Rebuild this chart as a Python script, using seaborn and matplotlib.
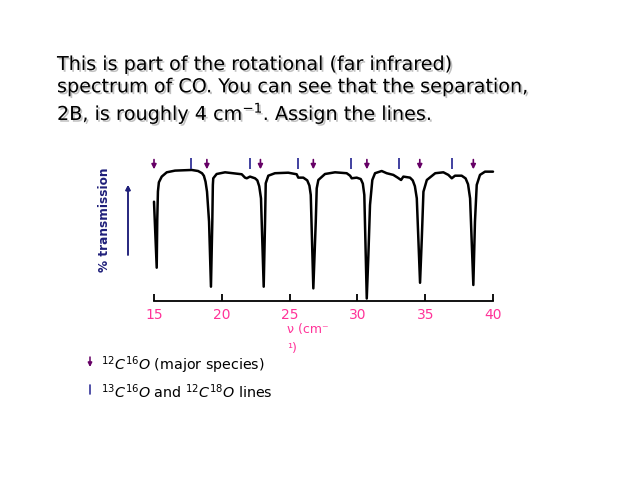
import matplotlib
matplotlib.use("Agg")
import matplotlib.pyplot as plt
import matplotlib.patheffects as pe
from matplotlib.lines import Line2D
import pandas as pd
import seaborn as sns

# Spectrum: wavenumber (cm-1) vs % transmission
wavenumber = [15.00, 15.20, 15.24, 15.29, 15.36, 15.57, 15.94, 16.55, 17.78, 18.25, 18.54,
              18.68, 18.80, 18.91, 19.06, 19.20, 19.30, 19.34, 19.37, 19.62, 20.24, 21.47,
              21.71, 21.84, 22.08, 22.45, 22.62, 22.76, 22.89, 23.09, 23.19, 23.24, 23.43,
              23.92, 24.90, 25.52, 25.64, 26.01, 26.30, 26.46, 26.56, 26.75, 26.93, 27.00,
              27.12, 27.61, 28.35, 29.21, 29.46, 29.58, 29.95, 30.25, 30.40, 30.51, 30.69,
              30.81, 30.93, 31.10, 31.30, 31.79, 32.16, 32.65, 32.97, 33.22, 33.39,
              33.88, 34.08, 34.24, 34.38, 34.62, 34.75, 34.87, 35.12, 35.74, 36.34, 36.71,
              36.96, 37.20, 37.69, 37.98, 38.16, 38.31, 38.55, 38.67, 38.80, 39.04, 39.41,
              40.00]
transmission = [77.1, 26.4, 63.1, 85.0, 92.0, 96.4, 99.7, 101.0, 101.5, 100.7, 99.0,
                97.0, 92.5, 84.8, 61.8, 11.8, 61.8, 90.0, 95.1, 98.4, 99.7, 98.2,
                95.6, 95.1, 96.4, 95.1, 93.5, 89.0, 79.7, 11.8, 61.8, 91.3, 97.1,
                99.0, 99.4, 98.2, 95.6, 95.6, 93.5, 89.5, 82.3, 10.5, 61.8, 87.4,
                93.8, 98.4, 99.7, 99.0, 97.1, 95.1, 95.6, 94.5, 91.0, 82.3, 2.7,
                36.1, 74.6, 93.8, 99.0, 100.7, 99.0, 97.7, 95.6, 93.8, 96.4,
                95.6, 93.5, 89.0, 79.7, 14.8, 49.0, 84.8, 93.8, 99.0, 99.7, 97.7,
                95.1, 97.1, 97.1, 95.0, 90.5, 79.7, 13.1, 61.8, 90.0, 97.7, 100.2,
                100.2]
co_main_lines = [15.0, 18.9, 22.85, 26.75, 30.7, 34.6, 38.55]     # 12C16O
co_isotope_lines = [17.75, 22.05, 25.6, 29.5, 33.1, 36.95]        # 13C16O / 12C18O
x_ticks = [15, 20, 25, 30, 35, 40]

title = ("This is part of the rotational (far infrared)\n"
         "spectrum of CO. You can see that the separation,\n"
         "2B, is roughly 4 cm$^{-1}$. Assign the lines.")

PINK = '#ff3399'
PURPLE = '#660066'
BLUE = '#333399'
NAVY = '#1f1f7a'
W, H = 638, 478

sns.set_theme(style="white")
plt.rcParams['font.family'] = ['DejaVu Sans']

fig = plt.figure(figsize=(W / 100, H / 100), dpi=100)
ax = fig.add_axes([154 / W, 1 - 301 / H, (493 - 154) / W, (301 - 155) / H])
ax.set_facecolor('none')

df = pd.DataFrame({'wavenumber': wavenumber, 'transmission': transmission})
sns.lineplot(data=df, x='wavenumber', y='transmission', sort=False,
             color='black', lw=1.8, ax=ax)
ax.lines[0].set_clip_on(False)
ax.lines[0].set_solid_joinstyle('round')

# line markers above the spectrum
for x in co_main_lines:
    ax.annotate('', xy=(x, 102), xytext=(x, 109.5), annotation_clip=False,
                arrowprops=dict(arrowstyle='-|>', color=PURPLE, lw=1.2,
                                mutation_scale=7, shrinkA=0, shrinkB=0))
ax.vlines(co_isotope_lines, 102, 110.5, color=BLUE, lw=1.3)

ax.set_xlim(15, 40)
ax.set_ylim(0.8, 113)
ax.set_xticks(x_ticks)
ax.set_yticks([])
ax.set_xlabel('')
ax.set_ylabel('')
for s in ['left', 'right', 'top']:
    ax.spines[s].set_visible(False)
ax.spines['bottom'].set_color('black')
ax.spines['bottom'].set_linewidth(1.3)
ax.tick_params(axis='x', bottom=True, direction='in', length=5, width=1.3,
               color='black', labelcolor=PINK, labelsize=10, pad=5)

# axis labels
fig.text(287 / W, 1 - 323 / H, 'ν (cm⁻\n¹)', ha='left', va='top',
         color=PINK, fontsize=9, linespacing=1.6)
fig.text(105 / W, 1 - 220 / H, '% transmission', rotation=90, ha='center',
         va='center', color=NAVY, fontweight='bold', fontsize=8.7)
fig.add_artist(plt.annotate('', xy=(128 / W, 1 - 185 / H), xytext=(128 / W, 1 - 255 / H),
                            xycoords='figure fraction', textcoords='figure fraction',
                            arrowprops=dict(arrowstyle='-|>', color=NAVY, lw=1.1,
                                            mutation_scale=7, shrinkA=0, shrinkB=0)))

# title
fig.text(57 / W, 1 - 55 / H, title, ha='left', va='top', fontsize=13.8,
         linespacing=1.22, color='black',
         path_effects=[pe.withSimplePatchShadow(offset=(1.3, -1.3),
                                                shadow_rgbFace='#999999', alpha=0.6)])

# legend
ax.annotate('', xy=(90 / W, 1 - 367 / H), xytext=(90 / W, 1 - 357 / H),
            xycoords='figure fraction', textcoords='figure fraction',
            arrowprops=dict(arrowstyle='-|>', color=PURPLE, lw=1.1,
                            mutation_scale=6, shrinkA=0, shrinkB=0))
fig.add_artist(Line2D([90 / W, 90 / W], [1 - 385 / H, 1 - 394 / H], color=BLUE, lw=1.2))
fig.text(101 / W, 1 - 365 / H, r'$^{12}C^{16}O$ (major species)', va='center',
         fontsize=10.3, color='black')
fig.text(101 / W, 1 - 392 / H, r'$^{13}C^{16}O$ and $^{12}C^{18}O$ lines', va='center',
         fontsize=10.3, color='black')

fig.savefig('out.png', dpi=100)
